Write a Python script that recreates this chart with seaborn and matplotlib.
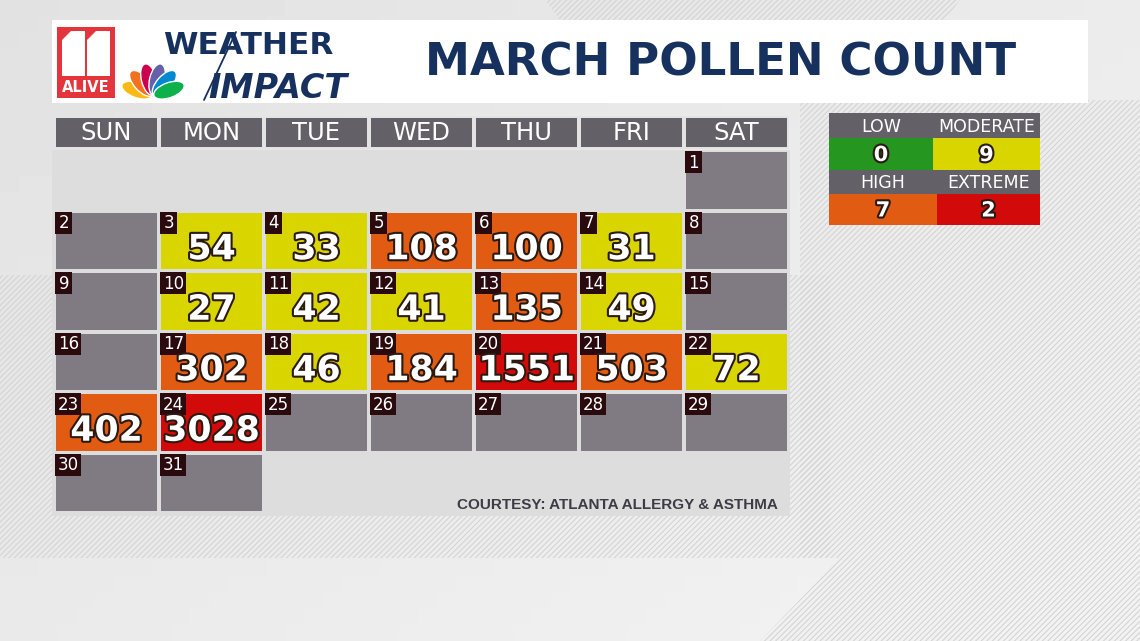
import numpy as np
import matplotlib
matplotlib.use("Agg")
import matplotlib.pyplot as plt
import seaborn as sns
from matplotlib.colors import ListedColormap
from matplotlib.patches import Rectangle, Polygon, Ellipse
import matplotlib.patheffects as pe

# ---------------- data ----------------
weekdays = ["SUN", "MON", "TUE", "WED", "THU", "FRI", "SAT"]
days = list(range(1, 32))
first_weekday = 6  # March 1 falls on Saturday
pollen_days = [3, 4, 5, 6, 7, 10, 11, 12, 13, 14, 17, 18, 19, 20, 21, 22, 23, 24]
pollen_values = [54, 33, 108, 100, 31, 27, 42, 41, 135, 49, 302, 46, 184, 1551,
                 503, 72, 402, 3028]
level_names = ["LOW", "MODERATE", "HIGH", "EXTREME"]
level_lower = [0, 15, 90, 1500]
title = "MARCH POLLEN COUNT"
credit = "COURTESY: ATLANTA ALLERGY & ASTHMA"

# ---------------- styles ----------------
level_colors = ["#25961f", "#d9d500", "#e25b12", "#d20a0a"]
nodata_color = "#807a82"
header_grey = "#636067"
panel_color = "#dddddd"
navy = "#17315f"
W, H = 1140, 641

sns.set_theme(style="white")
plt.rcParams["font.family"] = ["DejaVu Sans"]
plt.rcParams["hatch.linewidth"] = 0.8

fig = plt.figure(figsize=(W / 100, H / 100), dpi=100)

# ---------- background / decoration axes (pixel coordinates) ----------
bg = fig.add_axes([0, 0, 1, 1])
bg.set_xlim(0, W)
bg.set_ylim(H, 0)
bg.axis("off")
xx, yy = np.meshgrid(np.linspace(0, 1, 60), np.linspace(0, 1, 40))
grad = 0.885 + 0.07 * (0.55 * xx + 0.45 * yy)
bg.imshow(grad, extent=(0, W, H, 0), cmap="gray", vmin=0, vmax=1,
          aspect="auto", zorder=0)
stripe_regions = [
    [(0, 275), (830, 275), (830, 558), (0, 558)],
    [(800, 100), (W, 100), (W, H), (760, H), (840, 558), (800, 558)],
    [(545, 0), (960, 0), (945, 20), (560, 20)],
    [(880, 103), (960, 103), (950, 112), (890, 112)],
]
for poly in stripe_regions:
    bg.add_patch(Polygon(poly, closed=True, facecolor="none",
                         edgecolor="#d4d4d4", hatch="//////", lw=0, zorder=1))

# header bar
bg.add_patch(Rectangle((52, 20), 1036, 83, facecolor="white", edgecolor="none", zorder=2))
bg.text(721, 63, title, color=navy, fontsize=32.5, fontweight="heavy",
        ha="center", va="center", zorder=3)

# 11 ALIVE logo
bg.add_patch(Rectangle((57, 27), 58, 71, facecolor="#e4343c", edgecolor="none", zorder=3))
for dx in (0, 25):
    bg.add_patch(Polygon([(62 + dx, 40), (71 + dx, 31), (85 + dx, 31),
                          (85 + dx, 76), (62 + dx, 76)], closed=True,
                         facecolor="white", edgecolor="none", zorder=4))
bg.text(86, 88, "ALIVE", color="white", fontsize=10.5, fontweight="bold",
        ha="center", va="center", zorder=4)

# peacock
peacock_colors = ["#fdb913", "#f37021", "#cc004c", "#6460aa", "#0089d0", "#0db14b"]
for ang, col in zip([-70, -42, -14, 14, 42, 70], peacock_colors):
    t = np.deg2rad(ang)
    cx, cy = 153 + 17 * np.sin(t), 96 - 17 * np.cos(t)
    bg.add_patch(Ellipse((cx, cy), 15, 32, angle=ang, facecolor=col,
                         edgecolor="white", lw=1.0, zorder=4))

# Weather Impact wordmark
bg.text(163, 54, "WEATHER", color=navy, fontsize=22.5, fontweight="semibold",
        ha="left", va="baseline", zorder=4)
bg.text(208, 98, "IMPACT", color=navy, fontsize=24, fontweight="heavy",
        style="italic", ha="left", va="baseline", zorder=4)
bg.plot([236, 204], [32, 100], color=navy, lw=1.3, zorder=5)

# calendar panel
bg.add_patch(Rectangle((52, 150), 738, 366, facecolor=panel_color, edgecolor="none", zorder=2))

# ---------------- calendar grid ----------------
n_rows = 6
codes = np.full((n_rows, 7), np.nan)
pos = {}
for d in days:
    r, c = divmod(first_weekday + d - 1, 7)
    codes[r, c] = 0
    pos[d] = (r, c)
value_map = dict(zip(pollen_days, pollen_values))
level_of = {}
for d, v in value_map.items():
    lev = int(np.searchsorted(level_lower, v, side="right"))  # 1..4
    level_of[d] = lev
    r, c = pos[d]
    codes[r, c] = lev

x0, x1 = 54, 789
y0, y1 = 150, 513
ax = fig.add_axes([x0 / W, 1 - y1 / H, (x1 - x0) / W, (y1 - y0) / H])
cmap = ListedColormap([nodata_color] + level_colors)
sns.heatmap(codes, ax=ax, mask=np.isnan(codes), cmap=cmap, vmin=-0.5, vmax=4.5,
            cbar=False, linewidths=1.5, linecolor=panel_color,
            xticklabels=False, yticklabels=False)
ax.set_facecolor("none")
ax.patch.set_alpha(0)

stroke = [pe.withStroke(linewidth=3, foreground="#2b1a12")]
for d in days:
    r, c = pos[d]
    nd = len(str(d))
    bw = (8 + 9 * nd) / 105.0
    bh = 22 / 60.5
    ax.add_patch(Rectangle((c + 0.012, r + 0.02), bw, bh, facecolor="#2a0a0d",
                           edgecolor="none", zorder=3))
    ax.text(c + 0.012 + bw / 2, r + 0.02 + bh / 2 + 0.01, str(d), color="white",
            fontsize=12, ha="center", va="center", zorder=4)
    if d in value_map:
        ax.text(c + 0.5, r + 0.64, str(value_map[d]), color="white", fontsize=25,
                fontweight="heavy", ha="center", va="center", zorder=5,
                path_effects=stroke)

fig.text(778 / W, 1 - 505 / H, credit, color="#3c3c44", fontsize=11,
         fontweight="bold", family=["Liberation Sans", "DejaVu Sans"],
         ha="right", va="center", zorder=10)

# weekday header row
hy0, hy1 = 116, 149
axh = fig.add_axes([x0 / W, 1 - hy1 / H, (x1 - x0) / W, (hy1 - hy0) / H])
sns.heatmap(np.zeros((1, 7)), ax=axh, cmap=ListedColormap([header_grey]),
            vmin=-0.5, vmax=0.5, cbar=False, annot=np.array([weekdays]), fmt="",
            annot_kws=dict(color="white", fontsize=17.5), linewidths=1.5,
            linecolor="#e3e3e3", xticklabels=False, yticklabels=False)

# ---------------- legend ----------------
counts = [sum(1 for d in level_of if level_of[d] == k + 1) for k in range(4)]
lx0, lx1 = 829, 1040
splits = [933, 937]
rows_y = [(113, 138, 170), (170, 194, 225)]
for row in range(2):
    hy_top, vy_top, vy_bot = rows_y[row]
    bg.add_patch(Rectangle((lx0, hy_top), lx1 - lx0, vy_top - hy_top,
                           facecolor=header_grey, edgecolor="none", zorder=3))
    for k in range(2):
        idx = row * 2 + k
        xa = lx0 if k == 0 else splits[row]
        xb = splits[row] if k == 0 else lx1
        bg.add_patch(Rectangle((xa, vy_top), xb - xa, vy_bot - vy_top,
                               facecolor=level_colors[idx], edgecolor="none", zorder=3))
        bg.text((xa + xb) / 2, (hy_top + vy_top) / 2 + 1, level_names[idx],
                color="white", fontsize=12.5, ha="center", va="center", zorder=4)
        bg.text((xa + xb) / 2, (vy_top + vy_bot) / 2 + 1, str(counts[idx]),
                color="white", fontsize=15, fontweight="heavy", ha="center",
                va="center", zorder=4, path_effects=stroke)

fig.savefig("out.png", dpi=100)
